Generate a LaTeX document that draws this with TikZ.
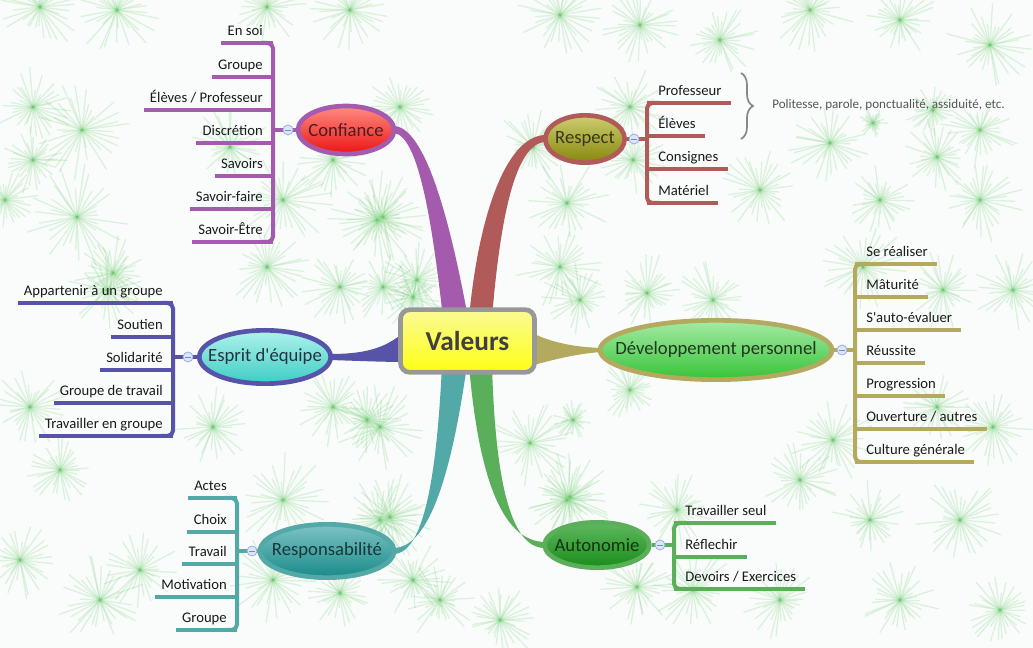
\documentclass[tikz,border=0pt]{standalone}
\usepackage{fontspec}
\setmainfont{Carlito}
\usetikzlibrary{shapes.geometric,calc,decorations.pathreplacing}
\pgfdeclarelayer{stars}
\pgfdeclarelayer{branches}
\pgfsetlayers{stars,branches,main}
\definecolor{bgc}{HTML}{FAFCFC}
\definecolor{cpur}{HTML}{A45BAD}
\definecolor{cred}{HTML}{B05A5A}
\definecolor{cblu}{HTML}{5753A9}
\definecolor{coli}{HTML}{B3A95F}
\definecolor{ctea}{HTML}{52A9A8}
\definecolor{cgrn}{HTML}{5BAF5B}
\definecolor{starc}{HTML}{6CCB6C}
\definecolor{txt}{HTML}{1A1A1A}
\definecolor{annot}{HTML}{555555}
\definecolor{knobf}{HTML}{DCE6FA}
\definecolor{knobd}{HTML}{98B0DE}
\tikzset{
  kid/.style={font=\fontsize{11}{13}\selectfont, text=txt, inner sep=0pt},
  ul/.style={line width=3pt, draw=#1},
  topic/.style={ellipse, line width=3.5pt, font=\fontsize{14}{16}\selectfont, inner sep=0pt},
  knob/.style={circle, minimum size=7.5pt, inner sep=0pt, fill=knobf, draw=knobd, line width=0.6pt,
    path picture={\draw[knobd!80!black, line width=0.7pt] ([xshift=-2pt]path picture bounding box.center) -- ([xshift=2pt]path picture bounding box.center);}},
  ray/.style={starc, line width=1pt, opacity=0.22, line cap=round},
}
\newcommand\starburst[3]{%
  \foreach \k in {1,...,32}{%
    \pgfmathsetmacro\ang{\k*360/32+rnd*10}%
    \pgfmathsetmacro\len{#3*(0.35+0.65*rnd)}%
    \draw[ray] (#1,#2) -- ++(\ang:\len);
  }}
\newcommand\zb[1]{\makebox[0pt]{#1}}
\newcommand\lkid[5]{%
  \node[kid, anchor=base east] (#1) at ({#3-10},{#4-7}) {#5};
  \draw[ul=#2] ($(#1.base west)+(-6,7)$) -- (#3,#4);}
\newcommand\rkid[5]{%
  \node[kid, anchor=base west] (#1) at ({#3+11},{#4-7}) {#5};
  \draw[ul=#2] (#3,#4) -- ($(#1.base east)+(9,7)$);}
\newcommand\trunk[5]{%
  \draw[ul=#1, rounded corners=4pt] ({#2+(#5)},#3) -- (#2,#3) -- (#2,#4) -- ({#2+(#5)},#4);}
\begin{document}
\begin{tikzpicture}[x=0.75pt,y=-0.75pt]
\useasboundingbox (0,0) rectangle (1033,648);
\begin{pgfonlayer}{stars}
  \fill[bgc] (0,0) rectangle (1033,648);
  \begin{scope}
  \clip (0,0) rectangle (1033,648);
  \pgfmathsetseed{7}
  \foreach \x/\y/\r in {40/7/45, 117/10/45, 267/7/40, 350/10/40, 560/15/45, 640/25/40, 720/40/40, 810/10/45, 900/20/40, 990/45/45,
    33/107/40, 82/130/50, 33/160/35, 77/217/55, 5/200/35, 113/273/40, 30/407/40, 60/470/35, 20/560/40, 100/600/45,
    230/147/40, 283/200/50, 333/160/40, 377/220/50, 267/267/45, 340/287/40, 383/287/35, 333/407/40, 367/420/35, 213/427/40,
    283/500/50, 390/517/45, 273/580/45, 340/593/35, 413/580/40, 140/570/40, 107/290/40,
    383/217/45, 417/280/40, 400/107/35, 533/147/40, 567/203/45, 560/267/45, 413/297/35, 580/300/40, 647/293/40, 713/300/40,
    630/390/35, 380/427/45, 530/443/45, 380/520/45, 567/500/45, 573/420/20,
    630/107/40, 633/160/35, 830/143/45, 873/123/15, 937/157/40, 980/130/40, 880/200/35, 980/200/45, 933/110/30,
    863/267/45, 943/290/40, 1013/290/40, 833/440/45, 937/407/35, 993/427/40, 760/190/40,
    570/497/45, 677/510/40, 637/587/40, 693/590/45, 800/480/40, 870/520/40, 960/520/45, 900/600/40, 1000/610/40, 780/600/40, 500/620/40, 440/600/40}
    {\starburst{\x}{\y}{\r}}
  \end{scope}
\end{pgfonlayer}

% central node
\node[rectangle, rounded corners=7pt, draw=gray!85!black!70, line width=3.5pt, top color={rgb,255:red,250;green,250;blue,150}, bottom color={rgb,255:red,255;green,255;blue,20},
  minimum width=100.5pt, minimum height=47pt, font=\bfseries\fontsize{20.5}{24}\selectfont, text=black!75] (val) at (467.5,341) {Valeurs};

% topics
\node[topic, minimum width=72pt, minimum height=36pt, draw=cpur, top color={rgb,255:red,255;green,140;blue,130}, bottom color={rgb,255:red,235;green,20;blue,20}, text={rgb,255:red,70;green,30;blue,30}] (conf) at (346,130) {\zb{Confiance}};
\node[topic, minimum width=59.5pt, minimum height=35.5pt, draw=cred, top color={rgb,255:red,205;green,205;blue,110}, bottom color={rgb,255:red,135;green,135;blue,15}, text={rgb,255:red,55;green,55;blue,30}] (rsp) at (585,139) {\zb{Respect}};
\node[topic, minimum width=98.5pt, minimum height=40pt, draw=cblu, top color={rgb,255:red,175;green,242;blue,236}, bottom color={rgb,255:red,60;green,205;blue,196}, text={rgb,255:red,35;green,50;blue,65}] (esp) at (265,357) {\zb{Esprit d\textquotesingle{}équipe}};
\node[topic, minimum width=174pt, minimum height=44.5pt, draw=coli, top color={rgb,255:red,165;green,235;blue,165}, bottom color={rgb,255:red,55;green,195;blue,55}, text={rgb,255:red,30;green,55;blue,30}] (dev) at (716,350) {\zb{Développement personnel}};
\node[topic, minimum width=100.5pt, minimum height=40pt, draw=ctea, top color={rgb,255:red,125;green,195;blue,195}, bottom color={rgb,255:red,25;green,138;blue,138}, text={rgb,255:red,22;green,55;blue,58}] (resp) at (327,551) {\zb{Responsabilité}};
\node[topic, minimum width=78.5pt, minimum height=34pt, draw=cgrn, top color={rgb,255:red,95;green,185;blue,95}, bottom color={rgb,255:red,25;green,140;blue,25}, text={rgb,255:red,20;green,50;blue,20}] (auto) at (597,545) {\zb{Autonomie}};

% knobs
\node[knob] (kconf) at (288,130) {};
\node[knob] (krsp) at (634,139) {};
\node[knob] (kesp) at (188,357) {};
\node[knob] (kdev) at (842,350) {};
\node[knob] (kresp) at (252,551) {};
\node[knob] (kauto) at (660,545) {};

\begin{pgfonlayer}{branches}
  % tapered main branches
  \fill[cpur] ($(conf.east)+(-3,-4)$) .. controls (425,126) and (450,220) .. (468,318) -- (443,318) .. controls (432,220) and (418,134) .. ($(conf.east)+(-3,3)$) -- cycle;
  \fill[cred] ($(rsp.west)+(3,-4)$) .. controls (505,135) and (478,220) .. (469,318) -- (492,318) .. controls (500,220) and (515,142) .. ($(rsp.west)+(3,3)$) -- cycle;
  \fill[cblu] (405,331) .. controls (385,350) and (360,354) .. ($(esp.east)+(-3,-3)$) -- ($(esp.east)+(-3,3)$) .. controls (360,361) and (385,362) .. (405,362) -- cycle;
  \fill[coli] (530,332) .. controls (552,343) and (575,347) .. ($(dev.west)+(3,-2)$) -- ($(dev.west)+(3,2)$) .. controls (575,354) and (552,360) .. (530,366) -- cycle;
  \fill[ctea] (467,365) .. controls (452,470) and (430,548) .. ($(resp.east)+(-3,-3)$) -- ($(resp.east)+(-3,3)$) .. controls (425,554) and (437,470) .. (442,365) -- cycle;
  \fill[cgrn] (469,365) .. controls (478,470) and (500,542) .. ($(auto.west)+(3,-3)$) -- ($(auto.west)+(3,3)$) .. controls (508,549) and (495,470) .. (492,365) -- cycle;
  % topic to trunk
  \draw[ul=cpur] (conf.west) -- (273,130);
  \draw[ul=cred] (rsp.east) -- (647,139);
  \draw[ul=cblu] (esp.west) -- (173,357);
  \draw[ul=coli] (dev.east) -- (855,350);
  \draw[ul=ctea] (resp.west) -- (237,551);
  \draw[ul=cgrn] (auto.east) -- (674,545);
\end{pgfonlayer}

% Confiance
\trunk{cpur}{273}{43}{242}{-12}
\lkid{cf1}{cpur}{273}{43}{En soi}
\lkid{cf2}{cpur}{273}{77}{Groupe}
\lkid{cf3}{cpur}{273}{110}{Élèves / Professeur}
\lkid{cf4}{cpur}{273}{143}{Discrétion}
\lkid{cf5}{cpur}{273}{176}{Savoirs}
\lkid{cf6}{cpur}{273}{209}{Savoir-faire}
\lkid{cf7}{cpur}{273}{242}{Savoir-Être}
% Respect
\trunk{cred}{647}{103}{203}{12}
\rkid{rs1}{cred}{647}{103}{Professeur}
\rkid{rs2}{cred}{647}{136}{Élèves}
\rkid{rs3}{cred}{647}{169}{Consignes}
\rkid{rs4}{cred}{647}{203}{Matériel}
% Esprit
\trunk{cblu}{173}{303}{436}{-12}
\lkid{es1}{cblu}{173}{303}{Appartenir à un groupe}
\lkid{es2}{cblu}{173}{337}{Soutien}
\lkid{es3}{cblu}{173}{370}{Solidarité}
\lkid{es4}{cblu}{173}{403}{Groupe de travail}
\lkid{es5}{cblu}{173}{436}{Travailler en groupe}
% Developpement
\trunk{coli}{855}{264}{462}{12}
\rkid{dv1}{coli}{855}{264}{Se réaliser}
\rkid{dv2}{coli}{855}{297}{Mâturité}
\rkid{dv3}{coli}{855}{330}{S\textquotesingle{}auto-évaluer}
\rkid{dv4}{coli}{855}{363}{Réussite}
\rkid{dv5}{coli}{855}{396}{Progression}
\rkid{dv6}{coli}{855}{429}{Ouverture / autres}
\rkid{dv7}{coli}{855}{462}{Culture générale}
% Responsabilite
\trunk{ctea}{237}{498}{630}{-12}
\lkid{rp1}{ctea}{237}{498}{Actes}
\lkid{rp2}{ctea}{237}{532}{Choix}
\lkid{rp3}{ctea}{237}{564}{Travail}
\lkid{rp4}{ctea}{237}{597}{Motivation}
\lkid{rp5}{ctea}{237}{630}{Groupe}
% Autonomie
\trunk{cgrn}{674}{523}{589}{12}
\rkid{au1}{cgrn}{674}{523}{Travailler seul}
\rkid{au2}{cgrn}{674}{557}{Réflechir}
\rkid{au3}{cgrn}{674}{589}{Devoirs / Exercices}

% annotation
\node[anchor=west, inner sep=0pt, font=\fontsize{9.8}{12}\selectfont, text=annot] (pol) at (772,105) {Politesse, parole, ponctualité, assiduité, etc.};
\coordinate (bt) at (741,73);
\coordinate (bb) at (741,139);
\draw[annot!70, line width=1.3pt, decorate, decoration={brace, amplitude=9pt}] (bt) -- (bb);
\end{tikzpicture}
\end{document}
